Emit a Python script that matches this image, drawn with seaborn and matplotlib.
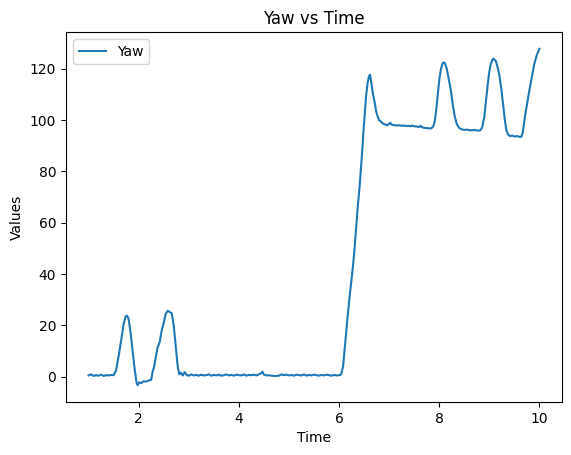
import matplotlib
matplotlib.use('Agg')
import pandas as pd
import seaborn as sns
import matplotlib.pyplot as plt

# Time stamps (s)
time = [
    1.00, 1.05, 1.10, 1.15, 1.20, 1.25, 1.30, 1.35, 1.40, 1.45, 1.50,
    1.55, 1.60, 1.65, 1.70, 1.74, 1.77, 1.80, 1.84, 1.88, 1.92, 1.96, 1.98,
    2.01, 2.05, 2.10, 2.15, 2.20, 2.25, 2.28, 2.31, 2.35, 2.38, 2.42, 2.46,
    2.50, 2.54, 2.58, 2.62, 2.66, 2.70, 2.74, 2.78, 2.81, 2.84, 2.88, 2.92,
    2.96, 3.00, 3.05, 3.10, 3.15, 3.20, 3.25, 3.30, 3.35, 3.40, 3.45, 3.50,
    3.55, 3.60, 3.65, 3.70, 3.75, 3.80, 3.85, 3.90, 3.95, 4.00, 4.05, 4.10,
    4.15, 4.20, 4.25, 4.30, 4.35, 4.40, 4.45, 4.47, 4.50, 4.55, 4.60, 4.65,
    4.70, 4.75, 4.80, 4.85, 4.90, 4.95, 5.00, 5.05, 5.10, 5.15, 5.20, 5.25,
    5.30, 5.35, 5.40, 5.45, 5.50, 5.55, 5.60, 5.65, 5.70, 5.75, 5.80, 5.85,
    5.90, 5.95, 6.00, 6.04, 6.08, 6.11, 6.14, 6.17, 6.21, 6.24, 6.28, 6.31,
    6.34, 6.37, 6.41, 6.44, 6.47, 6.49, 6.52, 6.54, 6.57, 6.60, 6.62, 6.64,
    6.67, 6.71, 6.74, 6.77, 6.80, 6.84, 6.88, 6.92, 6.96, 7.00, 7.02, 7.05,
    7.10, 7.15, 7.20, 7.25, 7.30, 7.35, 7.40, 7.43, 7.46, 7.50, 7.55, 7.60,
    7.63, 7.66, 7.70, 7.75, 7.80, 7.84, 7.88, 7.91, 7.94, 7.97, 8.00, 8.03,
    8.06, 8.08, 8.10, 8.12, 8.15, 8.18, 8.21, 8.24, 8.27, 8.31, 8.35, 8.40,
    8.45, 8.50, 8.55, 8.60, 8.65, 8.70, 8.75, 8.80, 8.83, 8.86, 8.90, 8.93,
    8.97, 9.00, 9.03, 9.06, 9.08, 9.10, 9.13, 9.16, 9.20, 9.24, 9.28, 9.31,
    9.34, 9.38, 9.42, 9.46, 9.50, 9.55, 9.60, 9.64, 9.67, 9.71, 9.75, 9.80,
    9.85, 9.90, 9.95, 10.00,
]

# Yaw values (deg)
yaw = [
    0.5, 0.9, 0.3, 0.6, 0.4, 0.8, 0.3, 0.6, 0.5, 0.7, 0.6,
    2.5, 8.0, 14.0, 20.5, 23.5, 23.8, 22.5, 17.0, 10.0, 3.0, -2.5, -3.3,
    -2.2, -2.5, -1.8, -1.9, -1.5, -1.2, 2.0, 4.0, 8.5, 11.5, 13.5, 18.0,
    21.0, 24.5, 25.7, 25.2, 24.8, 20.0, 12.0, 4.0, 0.9, 1.6, 0.5, 1.8,
    0.6, 0.4, 0.9, 0.5, 0.7, 0.4, 0.8, 0.5, 0.6, 0.9, 0.4, 0.7,
    0.5, 0.8, 0.4, 0.6, 0.9, 0.5, 0.7, 0.4, 0.8, 0.6, 0.5, 0.9,
    0.4, 0.7, 0.6, 0.8, 0.5, 0.9, 1.4, 2.0, 0.8, 0.5, 0.6, 0.4,
    0.3, 0.3, 0.4, 0.9, 0.6, 0.8, 0.5, 0.7, 0.4, 0.8, 0.6, 0.5,
    0.9, 0.4, 0.7, 0.5, 0.8, 0.6, 0.4, 0.7, 0.5, 0.8, 0.6, 0.4,
    0.7, 0.5, 0.6, 0.8, 4.0, 10.2, 16.8, 23.2, 31.0, 36.3, 43.5, 50.0,
    57.5, 65.5, 74.0, 81.8, 90.0, 96.5, 104.0, 109.5, 114.5, 117.2, 117.7, 115.0,
    111.0, 107.0, 103.5, 101.4, 100.0, 99.4, 98.6, 98.3, 98.0, 98.6, 99.0, 98.2,
    98.1, 97.9, 98.0, 97.8, 97.9, 97.7, 97.8, 97.6, 97.9, 97.6, 97.5, 97.3,
    97.8, 97.2, 97.0, 96.9, 96.8, 96.8, 97.5, 99.5, 104.0, 110.0, 115.7, 119.5,
    121.8, 122.5, 122.4, 121.8, 120.0, 117.0, 114.0, 110.5, 106.0, 101.4, 98.5, 96.9,
    96.4, 96.2, 96.3, 96.1, 96.0, 96.2, 96.0, 95.9, 96.2, 97.5, 101.4, 107.0,
    114.4, 119.0, 122.0, 123.5, 124.0, 123.6, 123.0, 121.0, 117.5, 112.0, 105.0, 100.0,
    96.0, 94.2, 93.8, 94.0, 93.6, 93.8, 93.5, 93.5, 95.5, 101.4, 106.0, 111.8,
    117.0, 122.2, 125.5, 127.8,
]

df = pd.DataFrame({'Time': time, 'Yaw': yaw})

fig = plt.figure(figsize=(5.71, 4.55), dpi=100)
ax = fig.add_axes([66 / 571, 1 - 402 / 455, 496 / 571, 370 / 455])
sns.lineplot(data=df, x='Time', y='Yaw', label='Yaw', ax=ax, color='#1f77b4', linewidth=1.5)
ax.set_title('Yaw vs Time')
ax.set_xlabel('Time')
ax.set_ylabel('Values')
ax.legend(loc='upper left')
plt.savefig('out.png', dpi=100)
